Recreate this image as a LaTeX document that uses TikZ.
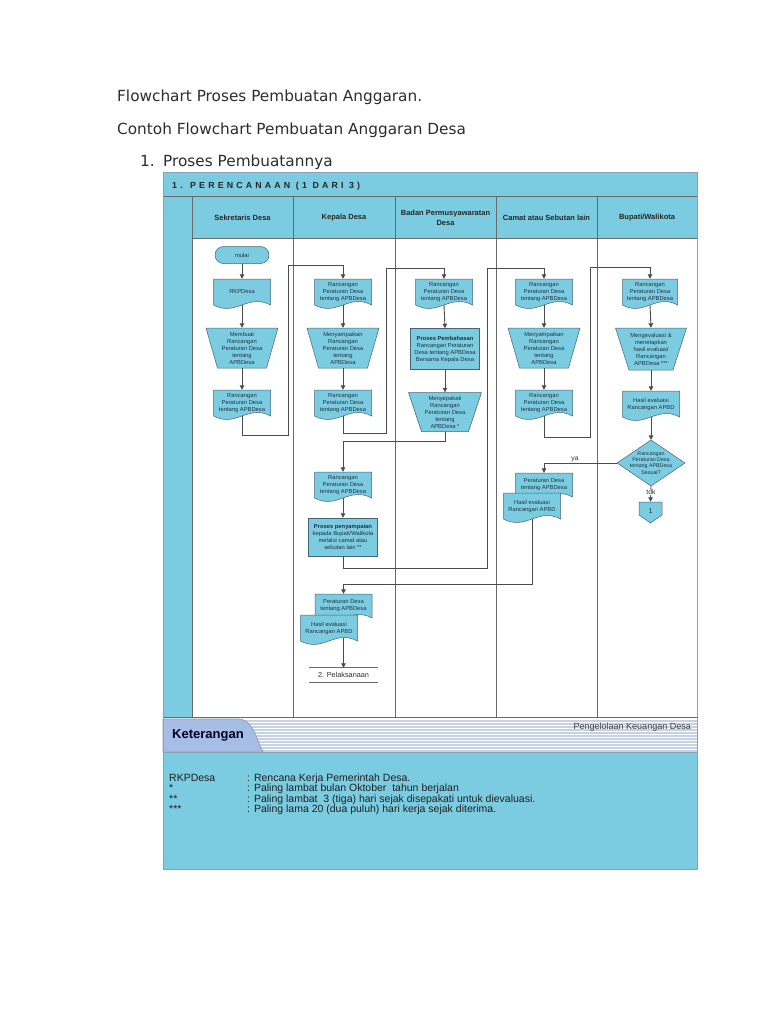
\documentclass[tikz,border=0pt]{standalone}
\usepackage{fontspec}
\setmainfont{Liberation Sans}
\newfontfamily\dejavu{DejaVu Sans}
\newfontfamily\spacedf[LetterSpace=36]{Liberation Sans}
\usetikzlibrary{arrows.meta,calc}
\definecolor{lblue}{RGB}{123,204,224}
\definecolor{tabblue}{RGB}{166,190,230}
\definecolor{shpborder}{RGB}{70,100,120}
\definecolor{stext}{RGB}{35,50,65}
\definecolor{conncol}{RGB}{75,75,75}
\definecolor{lanecol}{RGB}{105,105,105}
\definecolor{framecol}{RGB}{140,160,180}
\definecolor{stripecol}{RGB}{198,210,228}
\definecolor{pagetext}{RGB}{45,45,45}
\tikzset{
  shp/.style={fill=lblue, draw=shpborder, line width=0.5pt},
  stxt/.style={inner sep=0pt, align=center, text=stext, font=\fontsize{5.8}{7}\selectfont},
  conn/.style={draw=conncol, line width=0.9pt},
  arr/.style={conn, -{Triangle[length=4.5pt,width=4.5pt]}},
  lane/.style={draw=lanecol, line width=1pt},
  pagetxt/.style={anchor=base west, inner sep=0pt, text=pagetext, font=\dejavu\fontsize{15.3}{18}\selectfont},
  hdr/.style={inner sep=0pt, align=center, text=black!85, font=\bfseries\fontsize{7.5}{9.5}\selectfont},
  ketx/.style={anchor=base west, inner sep=0pt, text=black!88, font=\fontsize{10.5}{12}\selectfont},
}
% document shape: name, cx, cy, w, h, text
\newcommand\docsh[6]{%
  \filldraw[shp] ({#2-#4/2},{#3-#5/2}) -- ({#2+#4/2},{#3-#5/2}) -- ({#2+#4/2},{#3+#5/2})
    .. controls ({#2+0.1*#4},{#3+#5/2-12}) and ({#2-0.1*#4},{#3+#5/2+12}) .. ({#2-#4/2},{#3+#5/2}) -- cycle;
  \node[stxt, minimum width=#4, minimum height=#5] (#1) at (#2,#3) {#6};
}
% manual operation (trapezoid): name, cx, cy, wtop, wbot, h, text
\newcommand\trapsh[7]{%
  \filldraw[shp] ({#2-#4/2},{#3-#6/2}) -- ({#2+#4/2},{#3-#6/2}) -- ({#2+#5/2},{#3+#6/2}) -- ({#2-#5/2},{#3+#6/2}) -- cycle;
  \node[stxt, minimum width=#5, minimum height=#6] (#1) at (#2,#3) {#7};
}
\begin{document}
\begin{tikzpicture}[x=1pt,y=-1pt]
\path[use as bounding box, fill=white] (0,0) rectangle (768,1024);

% page texts
\node[pagetxt] (p1) at (117,101.7) {Flowchart Proses Pembuatan Anggaran.};
\node[pagetxt] (p2) at (117,135) {Contoh Flowchart Pembuatan Anggaran Desa};
\node[pagetxt] (p3) at (140,167) {1.};
\node[pagetxt] (p4) at (163,167) {Proses Pembuatannya};

% frame and lanes
\fill[lblue] (163,173) rectangle (697,197);
\fill[lblue] (163,197) rectangle (192,717);
\fill[lblue] (192,197) rectangle (697,238);
\fill[white] (192,238) rectangle (697,717);
\node[anchor=base west, inner sep=0pt, text=black!85, font=\spacedf\bfseries\fontsize{8.8}{10}\selectfont] (ttl) at (172,189) {1. PERENCANAAN (1 DARI 3)};
\foreach \xx in {192,293,395,496,597} {\draw[lane] (\xx,197) -- (\xx,717);}
\draw[lane] (163,197) -- (697,197);
\draw[lane] (192,238) -- (697,238);
\draw[lane] (163,717) -- (697,717);

\node[hdr] (h1) at (242.5,217.5) {Sekretaris Desa};
\node[hdr] (h2) at (344,217.5) {Kepala Desa};
\node[hdr] (h3) at (445.5,218) {Badan Permusyawaratan\\Desa};
\node[hdr] (h4) at (546.5,217.5) {Camat atau Sebutan lain};
\node[hdr] (h5) at (647,217.5) {Bupati/Walikota};

% keterangan area
\foreach \yy in {721,724,...,751} {\draw[stripecol, line width=1.2pt] (163,\yy) -- (697,\yy);}
\filldraw[fill=tabblue, draw=framecol, line width=0.7pt] (163,752) -- (163,719) -- (238,719)
   .. controls (254,719) and (257,742) .. (263,752) -- cycle;
\node[anchor=west, inner sep=0pt, text=black!85!blue, font=\bfseries\fontsize{13}{15}\selectfont] (ket) at (172,735.5) {Keterangan};
\node[anchor=east, inner sep=0pt, text=black!75, font=\fontsize{9}{11}\selectfont] (pkd) at (691,727) {Pengelolaan Keuangan Desa};
\fill[lblue] (163,752) rectangle (697,869);
\draw[framecol, line width=0.8pt] (163,752) -- (697,752);
\draw[framecol, line width=1pt] (163,173) rectangle (697,869);

\node[ketx] (k1a) at (169,781) {RKPDesa};
\node[ketx] (k1b) at (247,781) {: Rencana Kerja Pemerintah Desa.};
\node[ketx] (k2a) at (169,791.5) {*};
\node[ketx] (k2b) at (247,791.5) {: Paling lambat bulan Oktober\ \ tahun berjalan};
\node[ketx] (k3a) at (169,802) {**};
\node[ketx] (k3b) at (247,802) {: Paling lambat\ \ 3 (tiga) hari sejak disepakati untuk dievaluasi.};
\node[ketx] (k4a) at (169,812.5) {***};
\node[ketx] (k4b) at (247,812.5) {: Paling lama 20 (dua puluh) hari kerja sejak diterima.};

% ---- Sekretaris Desa
\node[shp, stxt, rounded corners=8.5pt, minimum width=54, minimum height=17] (mulai) at (242,255) {mulai};
\docsh{rkp}{242}{292}{57}{26}{RKPDesa}
\trapsh{buat}{242}{348}{72}{49}{40}{Membuat\\Rancangan\\Peraturan Desa\\tentang\\APBDesa}
\docsh{srpd}{242}{403}{57}{26}{Rancangan\\Peraturan Desa\\tentang APBDesa}

% ---- Kepala Desa
\docsh{ka}{343}{292}{57}{26}{Rancangan\\Peraturan Desa\\tentang APBDesa}
\trapsh{kb}{343}{348}{72}{49}{40}{Menyampaikan\\Rancangan\\Peraturan Desa\\tentang\\APBDesa}
\docsh{kc}{343}{403}{57}{26}{Rancangan\\Peraturan Desa\\tentang APBDesa}
\docsh{kd}{343}{485}{57}{26}{Rancangan\\Peraturan Desa\\tentang APBDesa}
\node[shp, stxt, minimum width=69, minimum height=38] (ke) at (343,537) {\textbf{Proses penyampaian}\\kepada Bupati/Walikota\\melalui camat atau\\sebutan lain **};
\docsh{kf}{343.5}{606}{57}{24}{Peraturan Desa\\tentang APBDesa}
\docsh{kg}{329}{628}{57}{26}{Hasil evaluasi\\Rancangan APBD}
\node[inner sep=0pt, minimum width=68, minimum height=14, text=stext, font=\fontsize{7.3}{9}\selectfont] (pel) at (343.5,675) {2. Pelaksanaan};
\draw[lanecol, line width=0.7pt] (pel.north west) -- (pel.north east);
\draw[lanecol, line width=0.7pt] (pel.south west) -- (pel.south east);

% ---- BPD
\docsh{ba}{444}{292}{57}{26}{Rancangan\\Peraturan Desa\\tentang APBDesa}
\node[shp, stxt, minimum width=69, minimum height=41] (bb) at (445,349) {\textbf{Proses Pembahasan}\\Rancangan Peraturan\\Desa tentang APBDesa\\Bersama Kepala Desa};
\trapsh{bc}{445}{412}{73}{47}{39}{Menyepakati\\Rancangan\\Peraturan Desa\\tentang\\APBDesa *}

% ---- Camat
\docsh{ca}{544}{292}{57}{26}{Rancangan\\Peraturan Desa\\tentang APBDesa}
\trapsh{cb}{544}{348}{72}{49}{40}{Menyampaikan\\Rancangan\\Peraturan Desa\\tentang\\APBDesa}
\docsh{cc}{544}{403}{57}{26}{Rancangan\\Peraturan Desa\\tentang APBDesa}
\docsh{cd}{544}{485}{57}{24}{Peraturan Desa\\tentang APBDesa}
\docsh{ce}{532}{506}{57}{26}{Hasil evaluasi\\Rancangan APBD}

% ---- Bupati
\docsh{ua}{650}{292}{55}{26}{Rancangan\\Peraturan Desa\\tentang APBDesa}
\trapsh{ub}{651}{349}{71}{44}{42}{Mengevaluasi \&\\menetapkan\\hasil evaluasi\\Rancangan\\APBDesa ***}
\docsh{uc}{651}{404}{57}{26}{Hasil evaluasi\\Rancangan APBD}
\filldraw[shp] (617,463) -- (651,440) -- (685,463) -- (651,486) -- cycle;
\node[stxt, minimum width=68, minimum height=46, font=\fontsize{5.3}{6.3}\selectfont] (dia) at (651,463) {Rancangan\\Peraturan Desa\\tentang APBDesa\\Sesuai?};
\filldraw[shp] (639,502) -- (662,502) -- (662,515) -- (650.5,523) -- (639,515) -- cycle;
\node[stxt, minimum width=23, minimum height=18, font=\fontsize{7}{8}\selectfont] (off) at (650.5,511) {1};

% ---- connectors
\draw[arr] (mulai.south) -- (rkp.north);
\draw[arr] (rkp.south) -- (buat.north);
\draw[arr] (buat.south) -- (srpd.north);
\draw[arr] (srpd.south) -- (242,435) -- (288,435) -- (288,265) -- (343,265) -- (ka.north);
\draw[arr] (ka.south) -- (kb.north);
\draw[arr] (kb.south) -- (kc.north);
\draw[arr] (kc.south) -- (343,433) -- (386,433) -- (386,268) -- (444,268) -- (ba.north);
\draw[arr] (ba.south) -- (bb.north);
\draw[arr] (bb.south) -- (bc.north);
\draw[arr] (bc.south) -- (445,441) -- (343,441) -- (kd.north);
\draw[arr] (kd.south) -- (ke.north);
\draw[arr] (ke.south) -- (343,568) -- (487,568) -- (487,268) -- (544,268) -- (ca.north);
\draw[arr] (ca.south) -- (cb.north);
\draw[arr] (cb.south) -- (cc.north);
\draw[arr] (cc.south) -- (544,437) -- (590,437) -- (590,267) -- (650,267) -- (ua.north);
\draw[arr] (ua.south) -- (ub.north);
\draw[arr] (ub.south) -- (uc.north);
\draw[arr] (uc.south) -- (dia.north);
\draw[arr] (dia.west) -- (544,463) -- (cd.north);
\node[inner sep=0.5pt, fill=white, text=stext, font=\fontsize{6.8}{8}\selectfont] (ya) at (575,459.5) {ya};
\draw[arr] (dia.south) -- (off.north);
\node[inner sep=0.5pt, fill=white, text=stext, font=\fontsize{6.8}{8}\selectfont] (tdk) at (651,492) {tdk};
\draw[arr] (ce.south) -- (532,584) -- (343.5,584) -- (kf.north);
\draw[arr] ($(kg.south -| pel.north)+(0,-3)$) -- (pel.north);
\end{tikzpicture}
\end{document}
